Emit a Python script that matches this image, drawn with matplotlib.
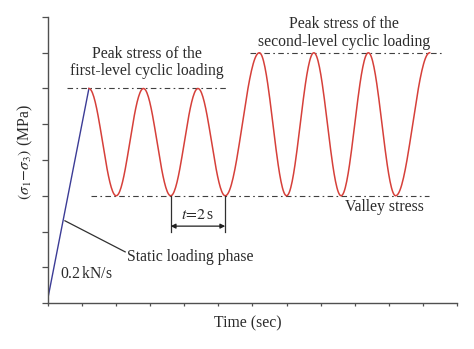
import numpy as np
import matplotlib
matplotlib.use('Agg')
import matplotlib.pyplot as plt

plt.rcParams['font.family'] = ['Liberation Serif', 'DejaVu Serif']
plt.rcParams['mathtext.fontset'] = 'stix'

# 靜態加載段 (time s, stress)
load_t = [0.0, 1.5]
load_y = [0.15, 6.0]

# 循環加載的峰 / 谷點
cyc_t = [1.5, 2.5, 3.5, 4.5, 5.5, 6.5, 7.75, 8.75, 9.75, 10.75, 11.75, 12.75, 14.0]
cyc_y = [6.0, 3.0, 6.0, 3.0, 6.0, 3.0, 7.0, 3.0, 7.0, 3.0, 7.0, 3.0, 7.0]

peak1_level = 6.0
peak2_level = 7.0
valley_level = 3.0

TXT = '#2b2b2b'
AX = '#505050'
RED = '#d6403a'
BLUE = '#3c3c96'
FS = 11.3


def smooth_path(ts, ys, n=40):
    """相鄰峰谷之間用半餘弦過渡。"""
    xx, yy = [], []
    for i in range(len(ts) - 1):
        s = np.linspace(0, 1, n)
        w = (1 - np.cos(np.pi * s)) / 2
        xx.append(ts[i] + (ts[i + 1] - ts[i]) * s)
        yy.append(ys[i] + (ys[i + 1] - ys[i]) * w)
    return np.concatenate(xx), np.concatenate(yy)


fig = plt.figure(figsize=(4.74, 3.49), dpi=100)
ax = fig.add_axes([0.1013, 0.1318, 0.8628, 0.8195])

dash = dict(color='#404040', lw=0.8, dashes=(5, 3, 1.5, 3))
ax.plot([0.7, 6.6], [peak1_level] * 2, **dash)
ax.plot([7.4, 14.45], [peak2_level] * 2, **dash)
ax.plot([1.58, 13.97], [valley_level] * 2, **dash)

ax.plot(load_t, load_y, color=BLUE, lw=1.0)
cx, cy = smooth_path(cyc_t, cyc_y)
ax.plot(cx, cy, color=RED, lw=1.1)

# t = 2 s 標註
ax.plot([4.5, 4.5], [valley_level, 2.0], color='#303030', lw=0.9)
ax.plot([6.5, 6.5], [valley_level, 2.0], color='#303030', lw=0.9)
ax.annotate('', xy=(4.5, 2.15), xytext=(6.5, 2.15),
            arrowprops=dict(arrowstyle='<|-|>', color='#202020', lw=0.9,
                            mutation_scale=7, shrinkA=0, shrinkB=0))
ax.text(5.5, 2.47, r'$t\!=\!2\,$s', ha='center', va='center', fontsize=FS, color=TXT)

# 靜態加載標註
ax.plot([0.62, 2.83], [2.3, 1.43], color='#303030', lw=0.9)
ax.text(2.88, 1.3, 'Static loading phase', ha='left', va='center', fontsize=FS, color=TXT)
ax.text(0.44, 0.8, r'0.2$\,$kN/s', ha='left', va='center', fontsize=FS, color=TXT)

ax.text(3.63, 6.73, 'Peak stress of the\nfirst-level cyclic loading', ha='center', va='center',
        fontsize=FS, color=TXT, linespacing=1.1)
ax.text(10.85, 7.55, 'Peak stress of the\nsecond-level cyclic loading', ha='center', va='center',
        fontsize=FS, color=TXT, linespacing=1.1)
ax.text(10.89, 2.69, 'Valley stress', ha='left', va='center', fontsize=FS, color=TXT)

ax.set_xlim(0, 15)
ax.set_ylim(0, 8)
ax.set_xticks(np.arange(0, 15.01, 1.25))
ax.set_yticks(np.arange(0, 8.01, 1))
ax.set_xticklabels([])
ax.set_yticklabels([])
ax.tick_params(axis='y', direction='out', length=4.5, width=0.9, color=AX)
ax.tick_params(axis='x', direction='out', length=2.5, width=0.9, color=AX)
for sp in ('top', 'right'):
    ax.spines[sp].set_visible(False)
for sp in ('left', 'bottom'):
    ax.spines[sp].set_color(AX)
    ax.spines[sp].set_linewidth(1.0)

ax.set_xlabel('Time (sec)', fontsize=FS, color=TXT)
ax.set_ylabel(r'$(\sigma_1\!-\!\sigma_3)$ (MPa)', fontsize=FS, color=TXT)
ax.xaxis.set_label_coords(0.489, -0.073)
ax.yaxis.set_label_coords(-0.056, 0.528)
ax.xaxis.label.set_va('center')
ax.yaxis.label.set_va('center')

fig.savefig('out.png', dpi=100)
